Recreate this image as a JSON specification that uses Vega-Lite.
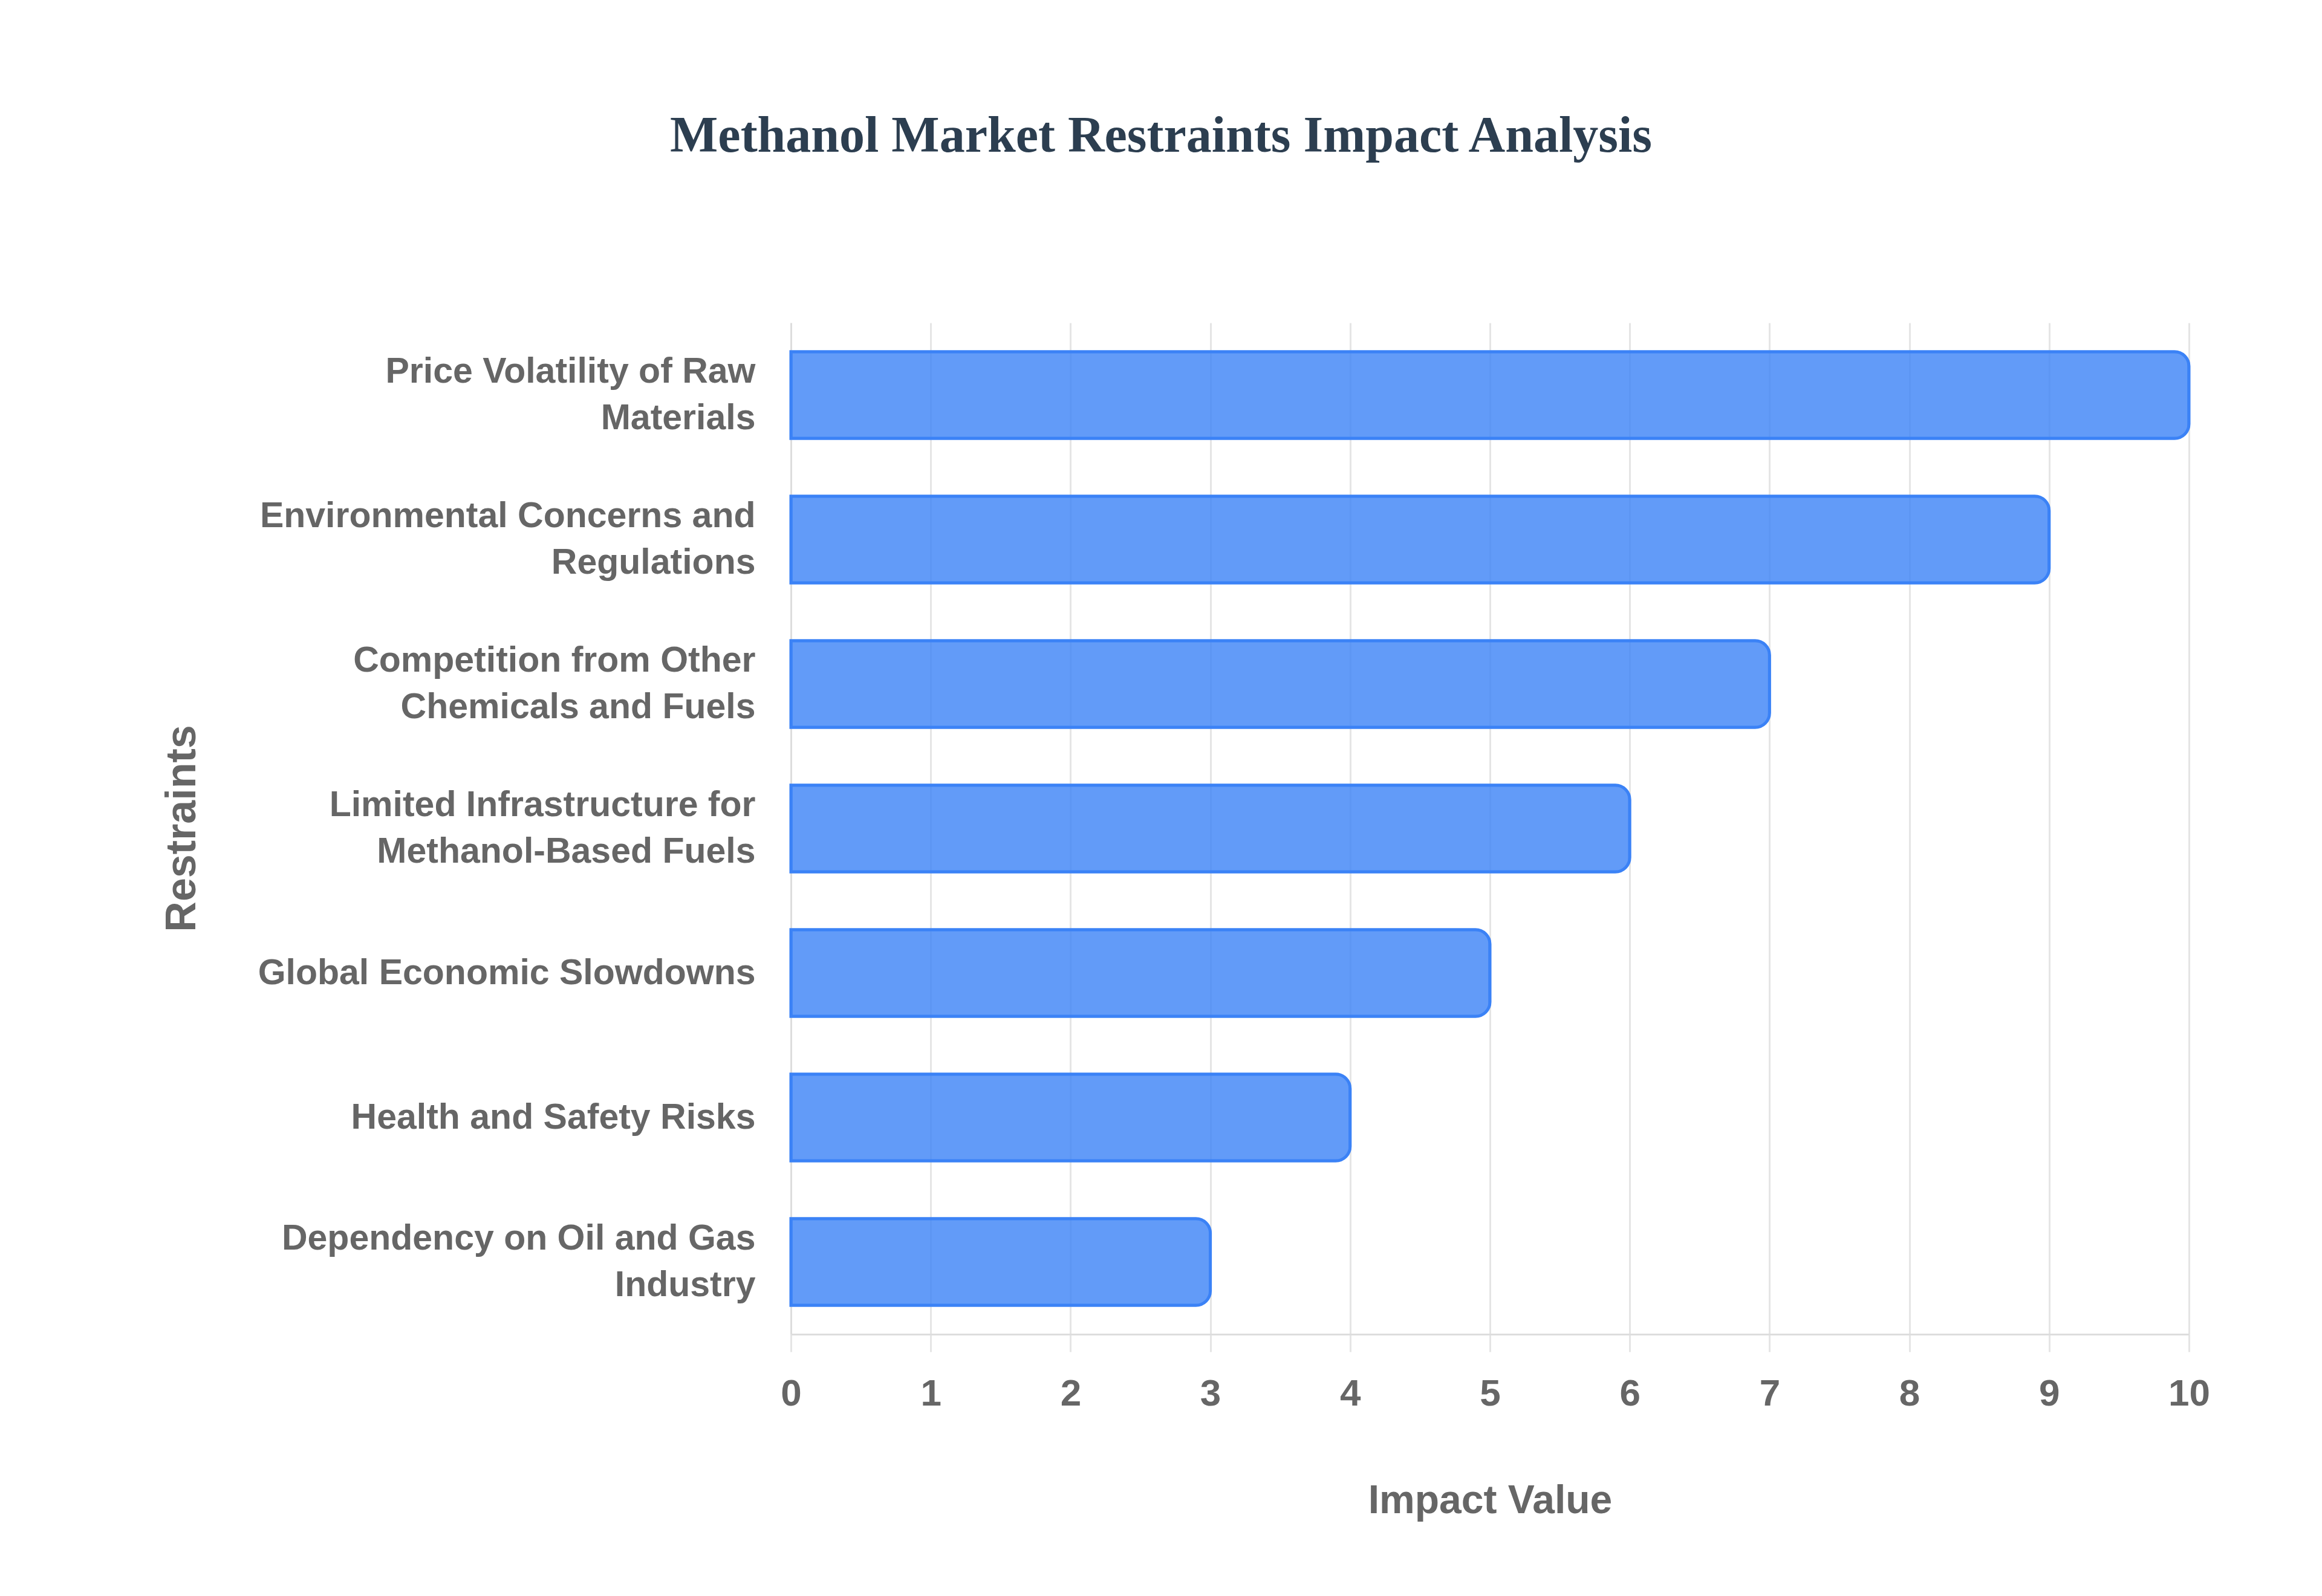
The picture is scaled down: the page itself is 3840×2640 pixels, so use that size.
{
  "$schema": "https://vega.github.io/schema/vega-lite/v6.json",
  "width": 2312,
  "height": 1673,
  "autosize": {"type": "none"},
  "padding": {"left": 1308, "top": 534, "right": 220, "bottom": 433},
  "background": "white",
  "title": {
    "text": "Methanol Market Restraints Impact Analysis",
    "font": "Liberation Serif",
    "fontSize": 84,
    "fontWeight": "bold",
    "color": "#2c3e50",
    "anchor": "middle",
    "dx": -544,
    "offset": 265
  },
  "data": {
    "values": [
      {"restraint": "Price Volatility of Raw Materials", "impact": 10},
      {"restraint": "Environmental Concerns and Regulations", "impact": 9},
      {"restraint": "Competition from Other Chemicals and Fuels", "impact": 7},
      {"restraint": "Limited Infrastructure for Methanol-Based Fuels", "impact": 6},
      {"restraint": "Global Economic Slowdowns", "impact": 5},
      {"restraint": "Health and Safety Risks", "impact": 4},
      {"restraint": "Dependency on Oil and Gas Industry", "impact": 3}
    ]
  },
  "mark": {
    "type": "bar",
    "fill": "#3b82f6",
    "fillOpacity": 0.8,
    "stroke": "#3b82f6",
    "strokeWidth": 5,
    "cornerRadiusEnd": 24
  },
  "encoding": {
    "y": {
      "field": "restraint",
      "type": "nominal",
      "sort": "-x",
      "scale": {"paddingInner": 0.4, "paddingOuter": 0.2},
      "axis": {
        "title": "Restraints",
        "titleFont": "Liberation Sans",
        "titleFontSize": 70,
        "titleFontWeight": "bold",
        "titleColor": "#666666",
        "titleAngle": 270,
        "titleX": -1007,
        "titleY": 836,
        "titleAlign": "center",
        "titleBaseline": "middle",
        "labelFont": "Liberation Sans",
        "labelFontSize": 59,
        "labelFontWeight": "bold",
        "labelColor": "#666666",
        "labelPadding": 59,
        "labelLineHeight": 77,
        "labelLimit": 0,
        "labelExpr": "split(replace(datum.label, regexp('^(.{18,26}) '), '$1|'), '|')",
        "labelOffset": {"expr": "test(regexp('^(.{18,26}) '), datum.label) ? -39 : 0"},
        "ticks": false,
        "tickSize": 0,
        "domainColor": "#dddddd",
        "domainWidth": 3,
        "grid": false
      }
    },
    "x": {
      "field": "impact",
      "type": "quantitative",
      "scale": {"domain": [0, 10]},
      "axis": {
        "title": "Impact Value",
        "titleFont": "Liberation Sans",
        "titleFontSize": 66,
        "titleFontWeight": "bold",
        "titleColor": "#666666",
        "titleY": 295,
        "titleBaseline": "alphabetic",
        "values": [0, 1, 2, 3, 4, 5, 6, 7, 8, 9, 10],
        "labelFont": "Liberation Sans",
        "labelFontSize": 62,
        "labelFontWeight": "bold",
        "labelColor": "#666666",
        "labelPadding": 39,
        "labelFlush": false,
        "labelOverlap": false,
        "tickSize": 29,
        "tickColor": "#e5e5e5",
        "tickWidth": 3,
        "gridColor": "#e5e5e5",
        "gridWidth": 3,
        "domainColor": "#dddddd",
        "domainWidth": 3
      }
    }
  },
  "config": {"view": {"stroke": null}}
}
